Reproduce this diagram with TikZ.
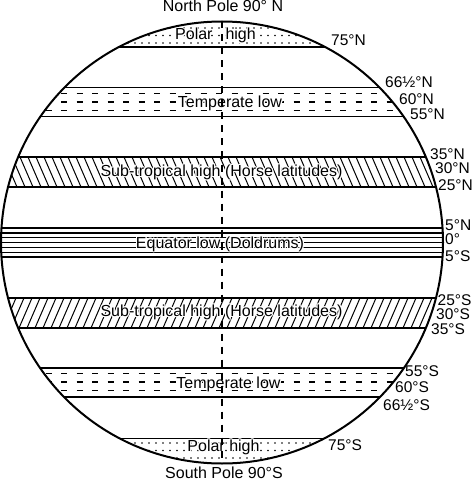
\documentclass[tikz,border=0pt]{standalone}
\usepackage{fontspec}
\setmainfont{Liberation Sans}
\newcommand\hl[3]{\rlap{\hspace{#1}\raisebox{#2}{#3}}}
\newcommand\halo[1]{{\color{white}\hl{1.2pt}{0pt}{#1}\hl{-1.2pt}{0pt}{#1}\hl{0pt}{1.2pt}{#1}\hl{0pt}{-1.2pt}{#1}\hl{0.85pt}{0.85pt}{#1}\hl{-0.85pt}{0.85pt}{#1}\hl{0.85pt}{-0.85pt}{#1}\hl{-0.85pt}{-0.85pt}{#1}}#1}
\begin{document}
\begin{tikzpicture}[x=1pt,y=-1pt,
  bandline/.style={line width=1.8pt},
  hatchline/.style={line width=1pt},
  tdash/.style={line width=1.8pt, dash pattern=on 6pt off 9.5pt},
  eqline/.style={line width=1.1pt},
  lab/.style={anchor=base west, inner sep=0pt, font=\fontsize{15.5}{17}\selectfont},
  btext/.style={anchor=base, inner sep=0pt, font=\fontsize{16}{18}\selectfont},
]
\useasboundingbox (0,0) rectangle (474,481);
\coordinate (C) at (222,242.5);
\coordinate (axtop) at (222,21.5);
\coordinate (axbot) at (222,463.5);
\begin{scope}
  \clip (C) circle (221);
  % polar dots
  \foreach \y in {28,35.5,43} \foreach \x in {100,107,...,350} \fill (\x,\y) circle (0.8);
  \foreach \y in {443,450.5,458} \foreach \x in {100,107,...,350} \fill (\x,\y) circle (0.8);
  % temperate dashes
  \foreach \y in {93.5,102,110.5} \draw[tdash] (30,\y) -- (450,\y);
  \foreach \y in {373.5,382,390.5} \draw[tdash] (30,\y) -- (450,\y);
  % subtropical hatches
  \begin{scope}
    \clip (0,157) rectangle (474,187);
    \foreach \x in {-20,-12,...,470} \draw[hatchline] (\x,157) -- (\x+13,187);
  \end{scope}
  \begin{scope}
    \clip (0,298) rectangle (474,328);
    \foreach \x in {0,8,...,490} \draw[hatchline] (\x,298) -- (\x-13,328);
  \end{scope}
  % equatorial lines
  \foreach \y in {233,237.8,242.6,247.4,252.2} \draw[eqline] (0,\y) -- (474,\y);
  % band boundaries
  \foreach \y in {47,87.5,116.5,157,187,228,257,298,328,368,397,438.5} \draw[bandline] (0,\y) -- (474,\y);
\end{scope}
\draw[line width=2pt] (C) circle (221);
% band texts
\node[btext] (polN) at (215.5,40) {\halo{Polar\hspace{13pt}high}};
\node[btext] (temN) at (230,108) {\halo{Temperate low}};
\node[btext] (subN) at (221.5,176.7) {\halo{Sub-tropical high (Horse latitudes)}};
\node[btext] (equ) at (220,248) {\halo{Equator low (Doldrums)}};
\node[btext] (subS) at (221.5,316.7) {\halo{Sub-tropical high (Horse latitudes)}};
\node[btext] (temS) at (228.5,388) {\halo{Temperate low}};
\node[btext] (polS) at (223.5,451.5) {\halo{Polar high}};
% axis
\draw[line width=2pt, dash pattern=on 7pt off 6pt] (axtop) -- (axbot);
% poles
\node[btext] (np) at (223,12) {North Pole 90° N};
\node[btext] (sp) at (224,478.5) {South Pole 90°S};
% latitude labels
\node[lab] (l75n) at (331,46) {75°N};
\node[lab] (l66n) at (385,87.3) {66½°N};
\node[lab] (l60n) at (399,104.3) {60°N};
\node[lab] (l55n) at (410,119.3) {55°N};
\node[lab] (l35n) at (430,159.3) {35°N};
\node[lab] (l30n) at (435,173.3) {30°N};
\node[lab] (l25n) at (438,190) {25°N};
\node[lab] (l5n) at (445,230) {5°N};
\node[lab] (l0) at (445,244.3) {0°};
\node[lab] (l5s) at (445,261.7) {5°S};
\node[lab] (l25s) at (437.5,305) {25°S};
\node[lab] (l30s) at (436,319) {30°S};
\node[lab] (l35s) at (431,334) {35°S};
\node[lab] (l55s) at (405,376.7) {55°S};
\node[lab] (l60s) at (395,392.7) {60°S};
\node[lab] (l66s) at (383,410) {66½°S};
\node[lab] (l75s) at (328,450) {75°S};
\end{tikzpicture}
\end{document}
